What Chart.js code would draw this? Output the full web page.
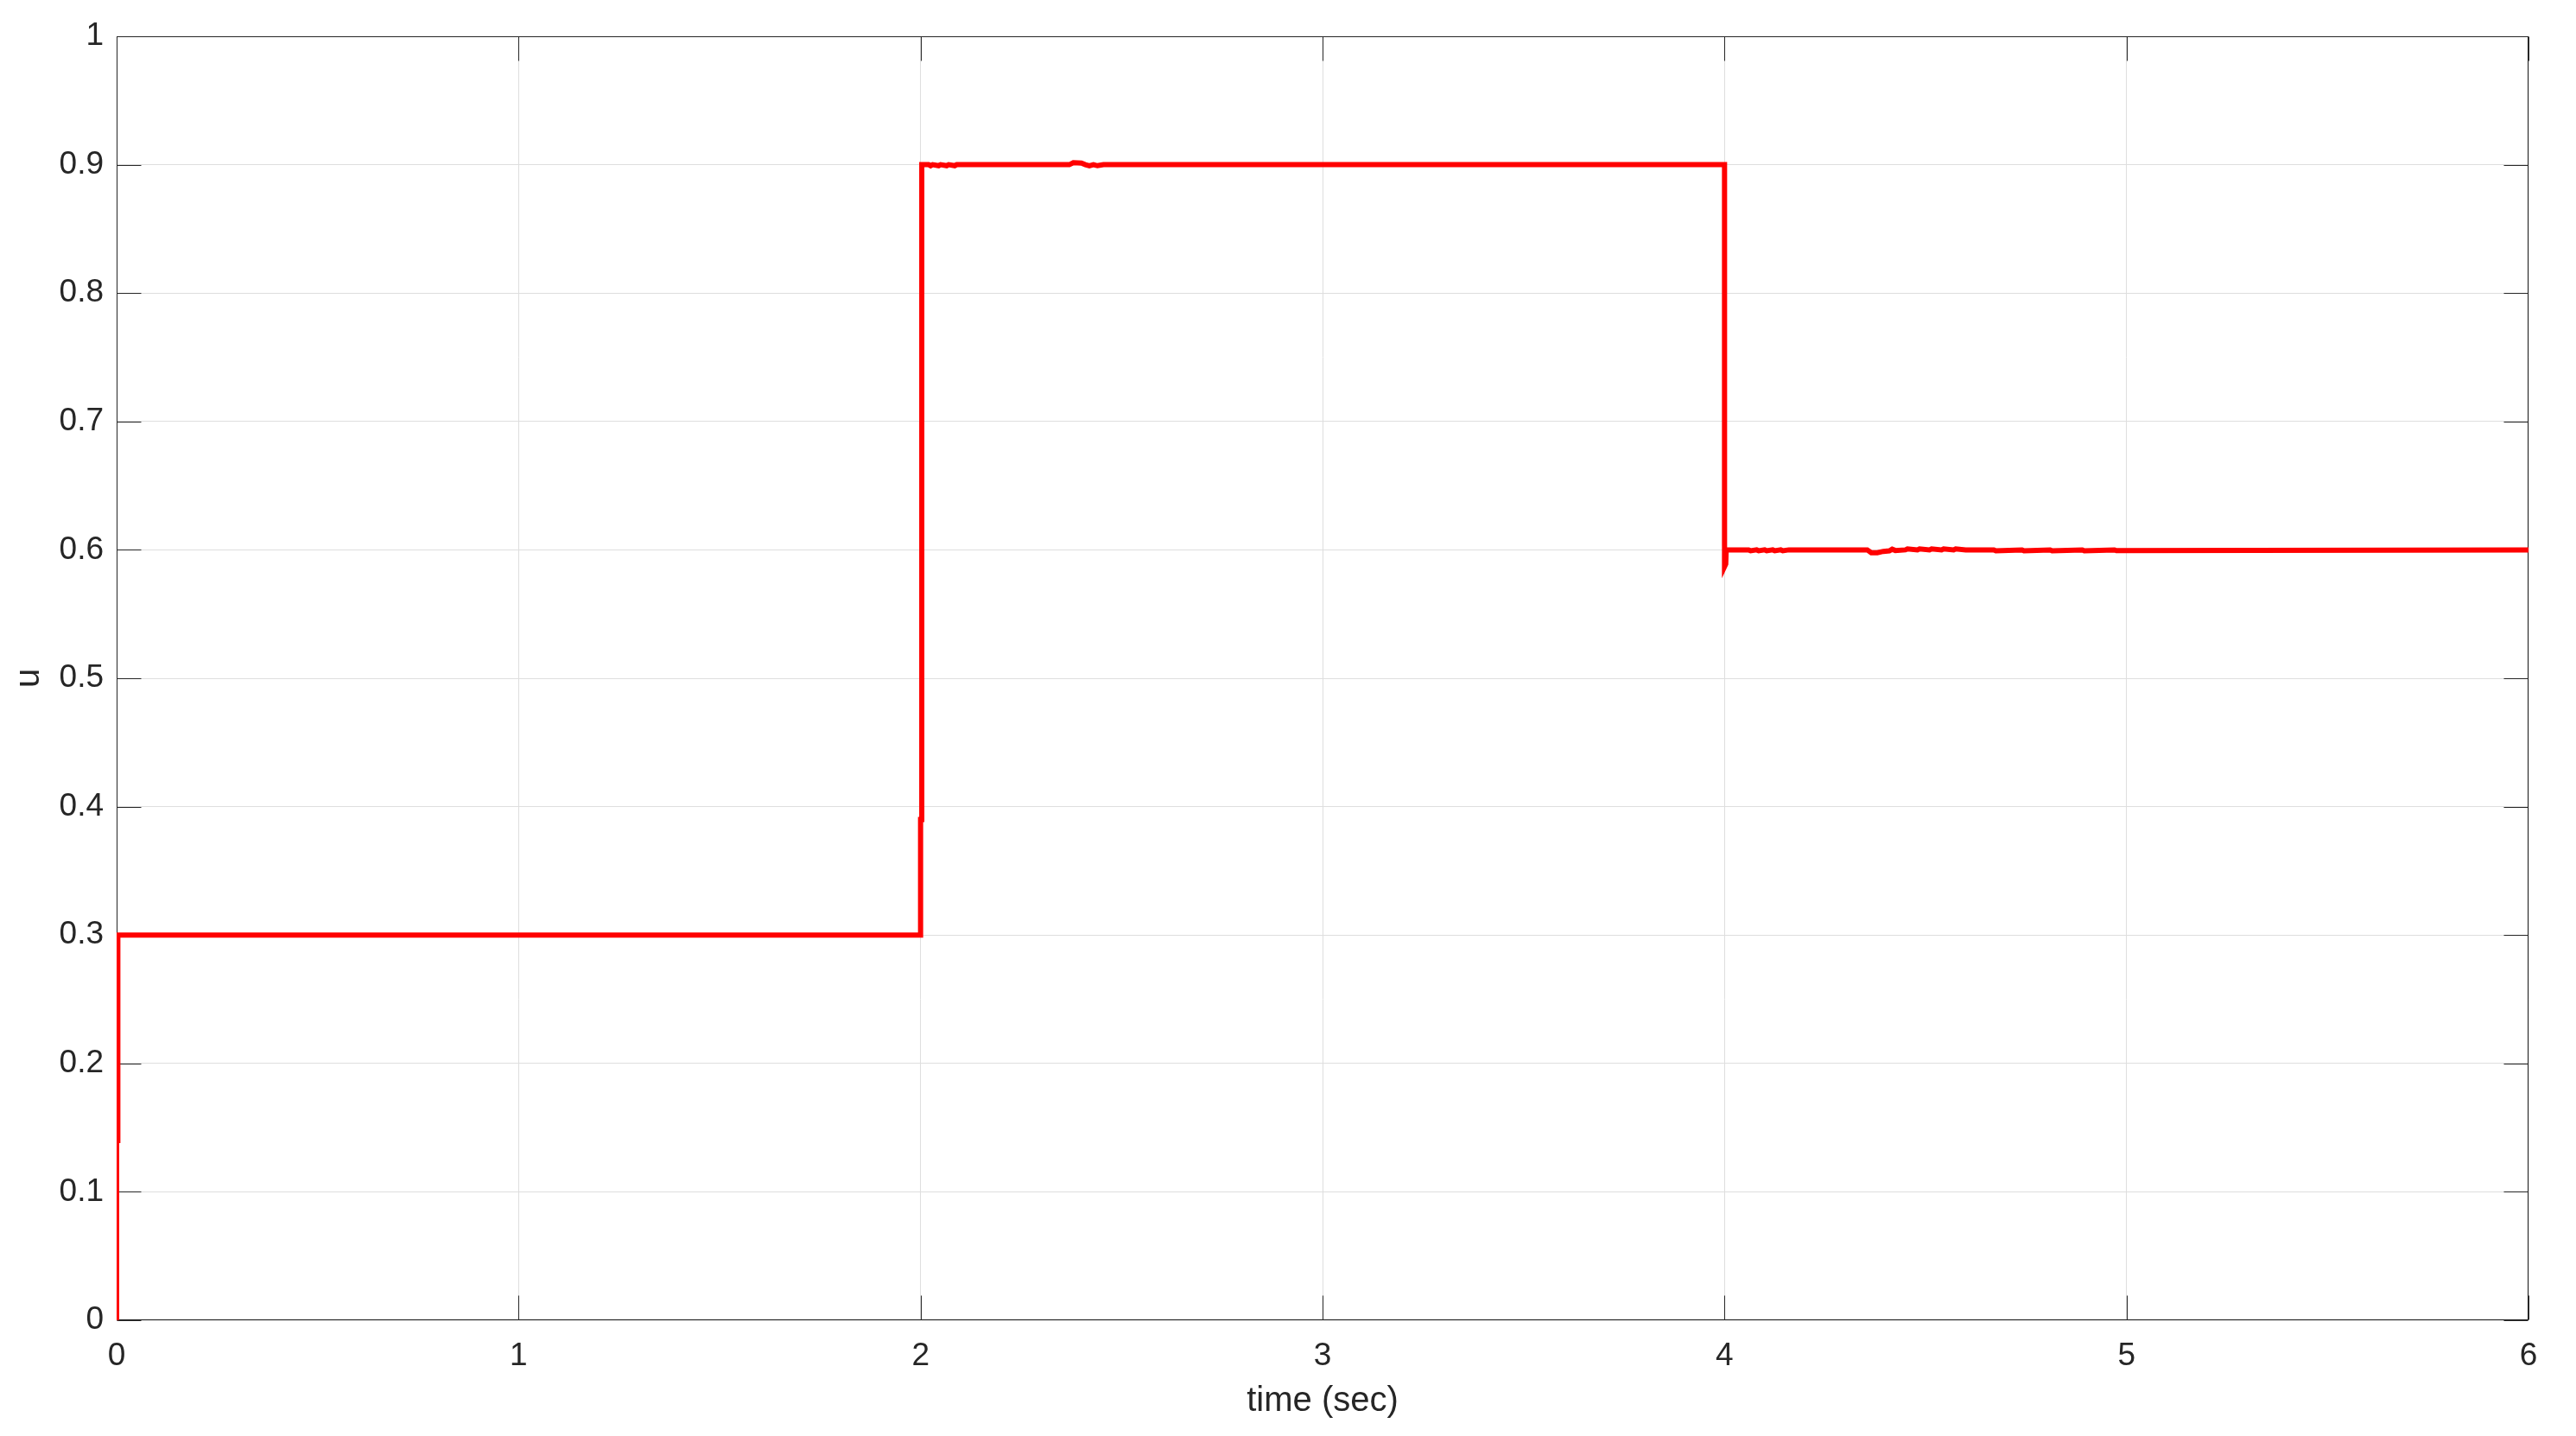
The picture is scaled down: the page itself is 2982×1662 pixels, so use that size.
<!DOCTYPE html>
<html>
<head>
<meta charset="utf-8">
<title>u</title>
<script src="https://cdn.jsdelivr.net/npm/chart.js@4.4.1/dist/chart.umd.min.js"></script>
<style>
  html, body { margin: 0; padding: 0; background: #fff; }
  #wrap { width: 2982px; height: 1662px; }
</style>
</head>
<body>
<div id="wrap"><canvas id="uChart" width="2982" height="1662"></canvas></div>
<script>
// simulated control signal u(t)
const timeSec = [
  0, 0, 0.003, 0.003,
  2.0, 2.0, 2.003, 2.003,
  2.02, 2.025, 2.03, 2.045, 2.05, 2.065, 2.07, 2.085, 2.09, 2.1,
  2.37, 2.38, 2.40, 2.41, 2.42, 2.43, 2.44, 2.455,
  4.0, 4.0, 4.003, 4.004,
  4.06, 4.065, 4.08, 4.085, 4.1, 4.105, 4.12, 4.125, 4.14, 4.145, 4.16, 4.17,
  4.355, 4.365, 4.38, 4.395, 4.41, 4.417, 4.425,
  4.45, 4.455, 4.48, 4.485, 4.51, 4.515, 4.54, 4.545, 4.57, 4.575, 4.6, 4.61,
  4.67, 4.675, 4.74, 4.745, 4.81, 4.815, 4.89, 4.895, 4.97, 4.975,
  6.0
];
const uValue = [
  0, 0.14, 0.14, 0.3,
  0.3, 0.39, 0.39, 0.9,
  0.9, 0.8992, 0.9, 0.8992, 0.9, 0.8992, 0.9, 0.8992, 0.9, 0.9,
  0.9, 0.9015, 0.9012, 0.9, 0.8992, 0.9, 0.8992, 0.9,
  0.9, 0.587, 0.589, 0.6,
  0.6, 0.5993, 0.6, 0.5993, 0.6, 0.5993, 0.6, 0.5993, 0.6, 0.5993, 0.6, 0.6,
  0.6, 0.5978, 0.5978, 0.5988, 0.5992, 0.6005, 0.5995,
  0.6, 0.6007, 0.6, 0.6007, 0.6, 0.6007, 0.6, 0.6007, 0.6, 0.6007, 0.6, 0.6,
  0.6, 0.5993, 0.6, 0.5993, 0.6, 0.5993, 0.6, 0.5993, 0.6, 0.5994,
  0.6
];

const xTickLabels = ['0', '1', '2', '3', '4', '5', '6'];
const yTickLabels = ['0', '0.1', '0.2', '0.3', '0.4', '0.5', '0.6', '0.7', '0.8', '0.9', '1'];

const axisColor = '#262626';
const gridColor = '#dedede';
const fontFamily = '"Liberation Sans", Arial, Helvetica, sans-serif';
const tickLen = 28;

// box round the axes + inward ticks on all four sides (matlab style)
const boxPlugin = {
  id: 'matlabBox',
  beforeDatasetsDraw(chart) {
    const { ctx, chartArea: a, scales } = chart;
    const l = Math.round(a.left) + 0.5, r = Math.round(a.right) - 0.5;
    const t = Math.round(a.top) + 0.5, b = Math.round(a.bottom) - 0.5;
    ctx.save();
    ctx.strokeStyle = axisColor;
    ctx.lineWidth = 1;
    ctx.beginPath();
    scales.x.ticks.forEach(tk => {
      const px = Math.round(scales.x.getPixelForValue(tk.value)) + 0.5;
      ctx.moveTo(px, b); ctx.lineTo(px, b - tickLen);
      ctx.moveTo(px, t); ctx.lineTo(px, t + tickLen);
    });
    scales.y.ticks.forEach(tk => {
      const py = Math.round(scales.y.getPixelForValue(tk.value)) + 0.5;
      ctx.moveTo(l, py); ctx.lineTo(l + tickLen, py);
      ctx.moveTo(r, py); ctx.lineTo(r - tickLen, py);
    });
    ctx.stroke();
    ctx.strokeRect(l, t, r - l, b - t);
    ctx.restore();
  }
};

new Chart(document.getElementById('uChart'), {
  type: 'line',
  data: {
    datasets: [{
      label: 'u',
      data: timeSec.map((t, i) => ({ x: t, y: uValue[i] })),
      borderColor: '#ff0000',
      borderWidth: 6,
      pointRadius: 0,
      tension: 0,
      fill: false
    }]
  },
  options: {
    responsive: false,
    animation: false,
    devicePixelRatio: 1,
    layout: { padding: { top: 42, right: 55, left: 0, bottom: 0 } },
    plugins: { legend: { display: false }, tooltip: { enabled: false } },
    scales: {
      x: {
        type: 'linear',
        min: 0, max: 6,
        afterFit: (s) => { s.height = 134; },
        grid: { color: gridColor, lineWidth: 1, drawTicks: false },
        border: { display: false },
        ticks: {
          stepSize: 1,
          padding: 20,
          maxRotation: 0,
          color: axisColor,
          font: { family: fontFamily, size: 37 },
          callback: (v) => xTickLabels[Math.round(v)]
        },
        title: {
          display: true,
          text: 'time (sec)',
          color: axisColor,
          font: { family: fontFamily, size: 40 },
          padding: { top: 0, bottom: 16 }
        }
      },
      y: {
        type: 'linear',
        min: 0, max: 1,
        afterFit: (s) => { s.width = 135; },
        grid: { color: gridColor, lineWidth: 1, drawTicks: false },
        border: { display: false },
        ticks: {
          stepSize: 0.1,
          padding: 15,
          color: axisColor,
          font: { family: fontFamily, size: 37 },
          callback: (v) => yTickLabels[Math.round(v * 10)]
        },
        title: {
          display: true,
          text: 'u',
          color: axisColor,
          font: { family: fontFamily, size: 40 },
          padding: { top: 10, bottom: 0 }
        }
      }
    }
  },
  plugins: [boxPlugin]
});
</script>
</body>
</html>
